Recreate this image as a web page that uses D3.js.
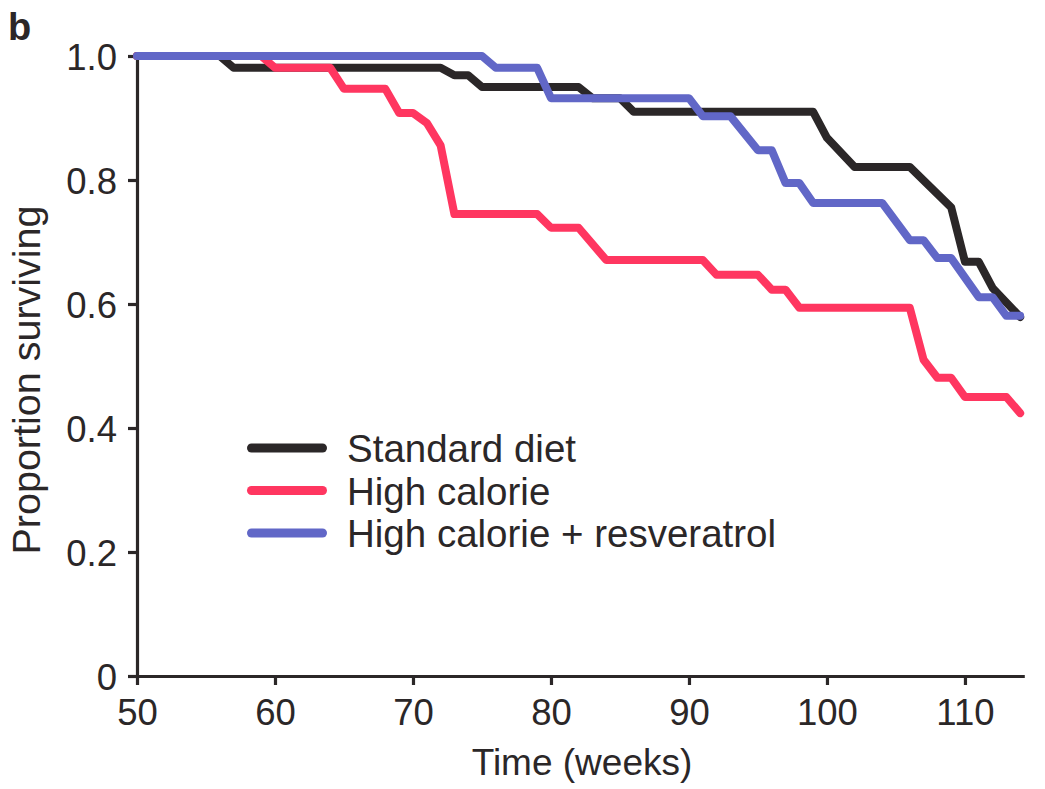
<!DOCTYPE html>
<html>
<head>
<meta charset="utf-8">
<script src="https://cdn.jsdelivr.net/npm/d3@7"></script>
<style>
  body { margin: 0; background: #fff; }
  text { font-family: "Liberation Sans", Arial, sans-serif; fill: #2b2728; }
</style>
</head>
<body>
<div id="container"></div>
<script>
let w = 1045;
let h = 789;

// survival curves
let stdWeeks = [50, 56, 57, 72, 73, 74, 75, 82, 83, 85, 86, 99, 100, 102, 106, 109, 110, 111, 112, 114];
let stdSurv  = [1.0, 1.0, 0.981, 0.981, 0.969, 0.969, 0.950, 0.950, 0.932, 0.932, 0.910, 0.910, 0.868, 0.821, 0.821, 0.756, 0.668, 0.668, 0.626, 0.579];

let hcWeeks = [50, 59, 60, 64, 65, 68, 69, 70, 71, 72, 73, 79, 80, 82, 84, 91, 92, 95, 96, 97, 98, 106, 107, 108, 109, 110, 113, 114];
let hcSurv  = [1.0, 1.0, 0.981, 0.981, 0.947, 0.947, 0.908, 0.908, 0.892, 0.856, 0.745, 0.745, 0.723, 0.723, 0.671, 0.671, 0.647, 0.647, 0.623, 0.623, 0.594, 0.594, 0.510, 0.481, 0.481, 0.450, 0.450, 0.424];

let hcrWeeks = [50, 75, 76, 79, 80, 90, 91, 93, 95, 96, 97, 98, 99, 104, 106, 107, 108, 109, 111, 112, 113, 114];
let hcrSurv  = [1.0, 1.0, 0.981, 0.981, 0.932, 0.932, 0.903, 0.903, 0.848, 0.848, 0.795, 0.795, 0.763, 0.763, 0.703, 0.703, 0.674, 0.674, 0.611, 0.611, 0.581, 0.581];

let seriesNames = ['Standard diet', 'High calorie', 'High calorie + resveratrol'];
let seriesColors = ['#2b2728', '#ff3660', '#6167c7'];

let xTicks = [50, 60, 70, 80, 90, 100, 110];
let yTicks = [0, 0.2, 0.4, 0.6, 0.8, 1.0];

let ink = '#2b2728';

let viz = d3.select('#container').append('svg')
    .attr('width', w)
    .attr('height', h);

let x = d3.scaleLinear().domain([50, 114.3]).range([137, 1024.3]);
let y = d3.scaleLinear().domain([0, 1]).range([676, 56]);

// axes
let xAxis = viz.append('g')
    .attr('transform', 'translate(0,676)')
    .call(d3.axisBottom(x).tickValues(xTicks).tickSize(9).tickSizeOuter(0));
let yAxis = viz.append('g')
    .attr('transform', 'translate(137,0)')
    .call(d3.axisLeft(y).tickValues(yTicks).tickSize(9).tickSizeOuter(0)
        .tickFormat(d => d === 0 ? '0' : d3.format('.1f')(d)));

[xAxis, yAxis].forEach(g => {
    g.select('.domain').attr('stroke', ink).attr('stroke-width', 3.2);
    g.selectAll('.tick line').attr('stroke', ink).attr('stroke-width', 3.2);
    g.selectAll('.tick text')
        .attr('font-family', '"Liberation Sans", Arial, sans-serif')
        .attr('font-size', '36.5px')
        .attr('fill', ink);
});
xAxis.selectAll('.tick text').attr('y', 49).attr('dy', 0);
yAxis.selectAll('.tick text').attr('x', -20).attr('dy', 13);

// curves
let line = d3.line()
    .x(d => x(d[0]))
    .y(d => y(d[1]));

let curves = [
    d3.zip(stdWeeks, stdSurv),
    d3.zip(hcWeeks, hcSurv),
    d3.zip(hcrWeeks, hcrSurv)
];

curves.forEach((c, i) => {
    viz.append('path')
        .datum(c)
        .attr('d', line)
        .attr('fill', 'none')
        .attr('stroke', seriesColors[i])
        .attr('stroke-width', 8)
        .attr('stroke-linejoin', 'round')
        .attr('stroke-linecap', 'round');
});

// legend
seriesNames.forEach((name, i) => {
    let ly = 448 + i * 42.5;
    viz.append('line')
        .attr('x1', 251.5).attr('x2', 322.5)
        .attr('y1', ly).attr('y2', ly)
        .attr('stroke', seriesColors[i])
        .attr('stroke-width', 9)
        .attr('stroke-linecap', 'round');
    viz.append('text')
        .text(name)
        .attr('x', 347)
        .attr('y', ly + 14)
        .attr('font-size', '38.5px');
});

// axis titles
viz.append('text')
    .text('Time (weeks)')
    .attr('x', 582)
    .attr('y', 775)
    .attr('text-anchor', 'middle')
    .attr('font-size', '37px');

viz.append('text')
    .text('Proportion surviving')
    .attr('transform', 'translate(40,380) rotate(-90)')
    .attr('text-anchor', 'middle')
    .attr('font-size', '39.5px');

// panel letter
viz.append('text')
    .text('b')
    .attr('x', 8)
    .attr('y', 40)
    .attr('font-weight', 'bold')
    .attr('font-size', '38px');
</script>
</body>
</html>
